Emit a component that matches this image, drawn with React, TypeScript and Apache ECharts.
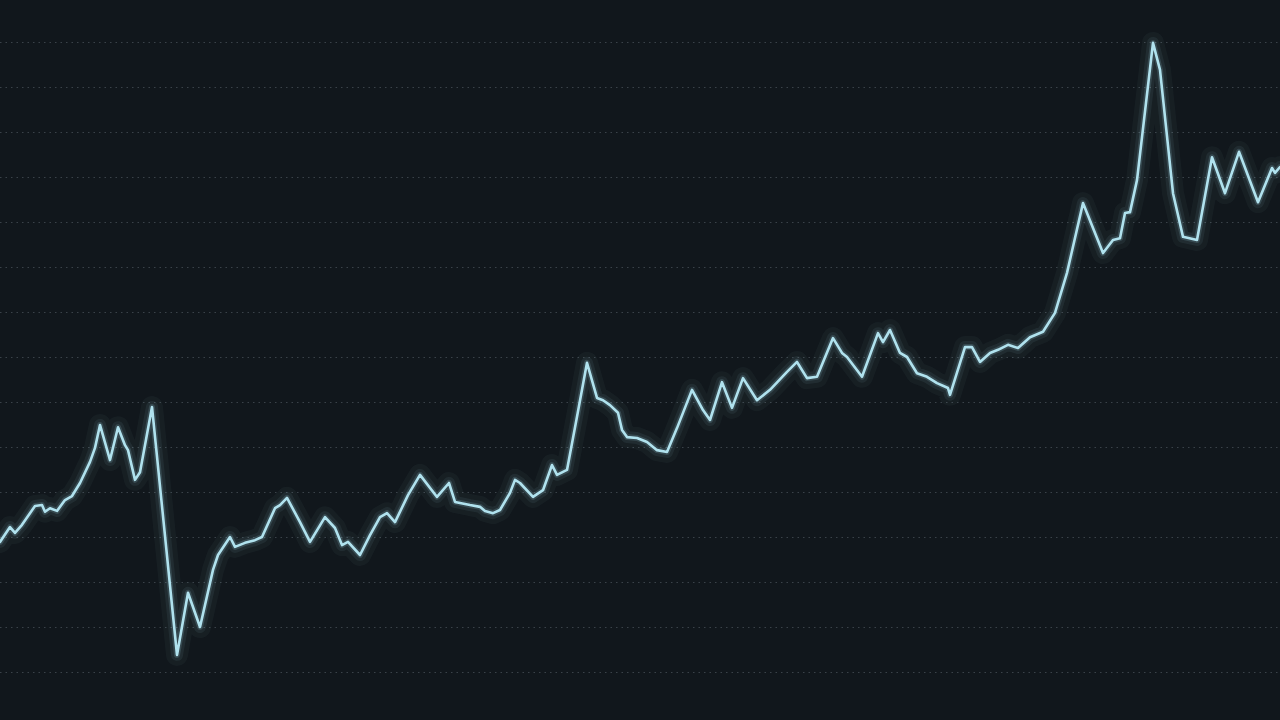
import React, { useEffect, useRef } from "react";
import * as echarts from "echarts";

// time index (arbitrary units along the horizontal axis)
const timeIndex: number[] = [
  0, 1, 1.5, 2.2, 3.5, 4.2, 4.5, 5.0, 5.7, 6.5, 7.2, 8.0, 9.0, 9.5, 10.0, 11.0, 11.8, 12.5, 12.8, 13.5,
  14.0, 15.2, 17.7, 18.8, 20.0, 21.3, 21.8, 23.0, 23.5, 24.5, 25.5, 26.2, 27.5, 28.0, 28.7, 30.0, 31.0, 32.5, 33.5, 34.2,
  34.8, 36.0, 37.0, 38.0, 38.7, 39.5, 40.8, 42.0, 43.7, 44.9, 45.5, 47.0, 48.0, 48.5, 49.3, 50.0, 51.0, 51.5, 52.0, 53.3,
  54.3, 55.2, 55.7, 56.7, 57.7, 58.7, 59.7, 60.3, 61.0, 61.8, 62.2, 62.7, 63.7, 64.7, 65.7, 66.7, 67.7, 69.2, 70.3, 71.0,
  72.2, 73.2, 74.3, 75.7, 77.0, 78.7, 79.7, 80.7, 81.7, 83.3, 84.2, 84.7, 86.2, 87.8, 88.3, 89.0, 90.0, 90.7, 91.7, 92.7,
  93.7, 94.8, 95.0, 96.5, 97.2, 98.0, 99.0, 99.8, 100.8, 101.8, 103.0, 104.3, 105.5, 106.7, 108.3, 110.3, 111.3, 112.0, 112.5, 113.0,
  113.7, 115.3, 116.0, 117.3, 118.3, 119.7, 121.2, 122.5, 123.9, 125.8, 127.2, 127.5, 128.0,
];

// series values
const priceValues: number[] = [
  38.9, 42.2, 40.9, 42.7, 46.9, 47.1, 45.6, 46.4, 45.8, 48.2, 49.1, 52.0, 56.7, 59.8, 64.9, 57.1, 64.4, 60.4, 59.3, 52.7,
  54.4, 68.9, 13.8, 27.6, 20.0, 32.7, 36.0, 40.0, 37.8, 38.7, 39.3, 40.0, 46.4, 47.1, 48.7, 43.3, 38.9, 44.4, 42.0, 38.2,
  38.9, 36.0, 40.4, 44.4, 45.3, 43.3, 49.3, 53.8, 48.9, 52.0, 47.8, 47.1, 46.7, 45.8, 45.3, 46.0, 49.8, 52.7, 52.0, 48.9,
  50.4, 56.0, 53.8, 54.9, 66.7, 78.7, 70.9, 70.4, 69.3, 67.6, 63.8, 62.2, 62.0, 61.1, 59.3, 58.9, 64.2, 72.7, 68.2, 66.0,
  74.4, 68.7, 75.3, 70.4, 72.7, 76.7, 78.9, 75.3, 75.6, 84.2, 80.9, 80.0, 75.6, 85.3, 83.3, 86.0, 80.9, 80.0, 76.4, 75.6,
  74.2, 73.1, 71.6, 82.2, 82.2, 78.9, 80.9, 81.6, 82.7, 82.0, 84.4, 85.6, 89.8, 98.7, 114.2, 103.1, 106.0, 106.4, 112.0, 112.2,
  119.3, 149.8, 143.8, 116.4, 106.7, 106.0, 124.4, 116.4, 125.6, 114.4, 122.0, 120.9, 122.2,
];

// value axis tick range
const yMin = 10;
const yMax = 150;
const yInterval = 10;
const xMin = 0;
const xMax = 128;

export default function App() {
  const ref = useRef<HTMLDivElement>(null);

  useEffect(() => {
    if (!ref.current) return;
    const chart = echarts.init(ref.current, undefined, { renderer: "svg" });
    const data = timeIndex.map((t, i) => [t, priceValues[i]]);
    const glow = (width: number, opacity: number) => ({
      type: "line",
      data,
      showSymbol: false,
      symbol: "none",
      clip: false,
      silent: true,
      z: 1,
      lineStyle: { color: "#a8e4f2", width, opacity, cap: "round", join: "round" },
    });
    chart.setOption({
      animation: false,
      backgroundColor: "#11171c",
      grid: { left: 0, right: 0, top: 42, bottom: 48, containLabel: false },
      xAxis: {
        type: "value",
        min: xMin,
        max: xMax,
        axisLine: { show: false },
        axisTick: { show: false },
        axisLabel: { show: false },
        splitLine: { show: false },
      },
      yAxis: {
        type: "value",
        min: yMin,
        max: yMax,
        interval: yInterval,
        axisLine: { show: false },
        axisTick: { show: false },
        axisLabel: { show: false },
        splitLine: {
          show: true,
          lineStyle: { color: "#3a4249", width: 1, type: [1.5, 4] },
        },
      },
      series: [
        glow(22, 0.04),
        glow(12, 0.07),
        glow(6, 0.16),
        {
          type: "line",
          data,
          showSymbol: false,
          symbol: "none",
          clip: false,
          z: 3,
          lineStyle: {
            color: "#b0e2ee",
            width: 2.6,
            join: "round",
            cap: "round",
          },
        },
      ],
    });
    return () => chart.dispose();
  }, []);

  return (
    <div
      ref={ref}
      style={{ position: "fixed", left: 0, top: 0, width: 1280, height: 720 }}
    />
  );
}
